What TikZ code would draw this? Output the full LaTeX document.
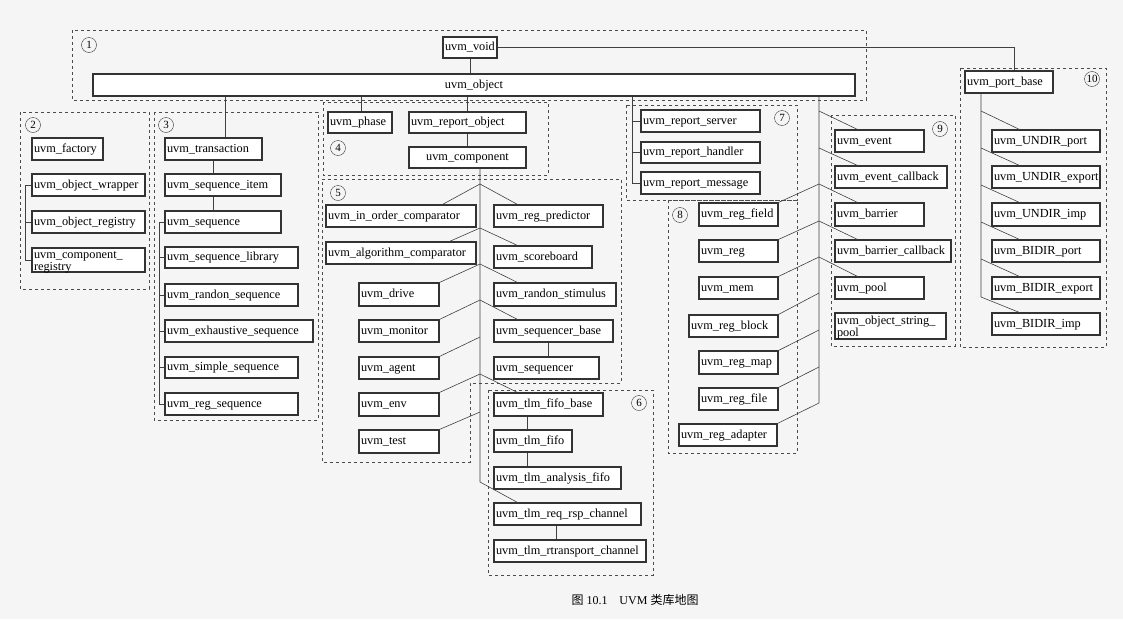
\documentclass[tikz,border=0pt]{standalone}
\usepackage{fontspec}
\setmainfont{Liberation Serif}
\newfontfamily\cjk{Noto Sans CJK SC}
\usetikzlibrary{positioning}

% class box: [extra style], name, x1, y1, x2, y2, text (pixel coordinates)
\newcommand{\cls}[7][]{%
  \pgfmathsetmacro\clsw{#5-#3-4}%
  \pgfmathsetmacro\clsh{#6-#4}%
  \node[cls, text width=\clsw pt, minimum height=\clsh pt, #1] (#2) at ({(#3+#5)/2},{(#4+#6)/2}) {#7};}

\tikzset{
  cls/.style={draw=black!80, line width=1.2pt, inner xsep=2pt, inner ysep=0pt, align=left,
    text height=9pt, text depth=2.5pt, font=\fontsize{12.3}{10}\selectfont, fill=white},
  twoline/.style={text height=9pt, text depth=12pt},
  grp/.style={draw=black!70, dashed, line width=0.5pt},
  num/.style={draw=black!80, circle, inner sep=0pt, minimum size=15pt, font=\fontsize{11}{11}\selectfont},
  link/.style={draw=black!75, line width=0.6pt}
}

\begin{document}
\begin{tikzpicture}[x=1pt, y=-1pt]
\fill[black!4] (0,0) rectangle (1123,619);
\useasboundingbox (0,0) rectangle (1123,619);

% groups
\draw[grp] (72,30) rectangle (866,100);
\draw[grp] (20,112) rectangle (149,289);
\draw[grp] (154,112) rectangle (318,420);
\draw[grp] (323,102) rectangle (548,175);
\draw[grp] (322,179) -- (621,179) -- (621,383) -- (470,383) -- (470,462) -- (322,462) -- cycle;
\draw[grp] (488,390) rectangle (653,575);
\draw[grp] (626,105) rectangle (797,200);
\draw[grp] (668,200) rectangle (797,453);
\draw[grp] (831,115) rectangle (955,346);
\draw[grp] (960,68) rectangle (1106,347);

\node[num] (n1) at (89,45) {1};
\node[num] (n2) at (33,125) {2};
\node[num] (n3) at (166,125) {3};
\node[num] (n4) at (338,148) {4};
\node[num] (n5) at (338,193) {5};
\node[num] (n6) at (639,403) {6};
\node[num] (n7) at (782,118) {7};
\node[num] (n8) at (680,215) {8};
\node[num] (n9) at (940,129) {9};
\node[num] (n10) at (1092,79) {10};

% 1
\cls{void}{443}{37}{497}{58}{uvm\_void}
\node[cls, minimum width=762pt, minimum height=22pt, align=center] (object) at (474,85) {uvm\_object};
% 2
\cls{factory}{32}{138}{103}{160}{uvm\_factory}
\cls{wrapper}{32}{174}{145}{196}{uvm\_object\_wrapper}
\cls{objreg}{32}{211}{145}{233}{uvm\_object\_registry}
\cls[twoline]{compreg}{32}{248}{145}{272}{uvm\_component\_\\registry}
% 3
\cls{trans}{165}{138}{262}{160}{uvm\_transaction}
\cls{seqitem}{165}{174}{281}{196}{uvm\_sequence\_item}
\cls{seq}{165}{211}{281}{233}{uvm\_sequence}
\cls{seqlib}{165}{247}{298}{268}{uvm\_sequence\_library}
\cls{randseq}{165}{284}{298}{306}{uvm\_randon\_sequence}
\cls{exhseq}{165}{320}{313}{342}{uvm\_exhaustive\_sequence}
\cls{simpseq}{165}{357}{298}{378}{uvm\_simple\_sequence}
\cls{regseq}{165}{393}{298}{415}{uvm\_reg\_sequence}
% 4
\cls{phase}{328}{112}{392}{133}{uvm\_phase}
\cls{repobj}{409}{112}{526}{133}{uvm\_report\_object}
\cls{comp}{409}{147}{526}{168}{\hfil uvm\_component}
% 5
\cls{inorder}{326}{205}{476}{227}{uvm\_in\_order\_comparator}
\cls{algo}{326}{242}{476}{264}{uvm\_algorithm\_comparator}
\cls{drive}{359}{283}{439}{306}{uvm\_drive}
\cls{monitor}{359}{320}{439}{342}{uvm\_monitor}
\cls{agent}{359}{357}{439}{379}{uvm\_agent}
\cls{env}{359}{393}{439}{416}{uvm\_env}
\cls{test}{359}{430}{439}{453}{uvm\_test}
\cls{pred}{494}{205}{603}{227}{uvm\_reg\_predictor}
\cls{score}{494}{246}{592}{268}{uvm\_scoreboard}
\cls{stim}{494}{283}{616}{306}{uvm\_randon\_stimulus}
\cls{sqrbase}{494}{320}{613}{342}{uvm\_sequencer\_base}
\cls{sqr}{494}{357}{599}{379}{uvm\_sequencer}
% 6
\cls{fifobase}{494}{393}{603}{416}{uvm\_tlm\_fifo\_base}
\cls{fifo}{494}{430}{572}{452}{uvm\_tlm\_fifo}
\cls{afifo}{494}{467}{621}{489}{uvm\_tlm\_analysis\_fifo}
\cls{reqrsp}{494}{503}{641}{525}{uvm\_tlm\_req\_rsp\_channel}
\cls{rtrans}{494}{540}{646}{562}{uvm\_tlm\_rtransport\_channel}
% 7
\cls{server}{641}{110}{760}{132}{uvm\_report\_server}
\cls{handler}{641}{142}{760}{163}{uvm\_report\_handler}
\cls{message}{641}{172}{760}{194}{uvm\_report\_message}
% 8
\cls{field}{699}{203}{778}{226}{uvm\_reg\_field}
\cls{reg}{699}{240}{778}{262}{uvm\_reg}
\cls{mem}{699}{277}{778}{299}{uvm\_mem}
\cls{block}{689}{315}{778}{337}{uvm\_reg\_block}
\cls{map}{699}{351}{778}{374}{uvm\_reg\_map}
\cls{file}{699}{388}{778}{410}{uvm\_reg\_file}
\cls{adapter}{679}{424}{777}{446}{uvm\_reg\_adapter}
% 9
\cls{event}{835}{130}{924}{152}{uvm\_event}
\cls{eventcb}{835}{166}{947}{188}{uvm\_event\_callback}
\cls{barrier}{835}{203}{924}{226}{uvm\_barrier}
\cls{barriercb}{835}{240}{951}{262}{uvm\_barrier\_callback}
\cls{pool}{835}{277}{924}{299}{uvm\_pool}
\cls[twoline]{strpool}{835}{313}{946}{339}{uvm\_object\_string\_\\pool}
% 10
\cls{portbase}{965}{71}{1053}{93}{uvm\_port\_base}
\cls{uport}{992}{130}{1100}{152}{uvm\_UNDIR\_port}
\cls{uexport}{992}{166}{1100}{188}{uvm\_UNDIR\_export}
\cls{uimp}{992}{203}{1100}{226}{uvm\_UNDIR\_imp}
\cls{bport}{992}{240}{1100}{262}{uvm\_BIDIR\_port}
\cls{bexport}{992}{277}{1100}{299}{uvm\_BIDIR\_export}
\cls{bimp}{992}{313}{1100}{335}{uvm\_BIDIR\_imp}

% connectors
\draw[link] (void) -- (void |- object.north);
\draw[link] (void.east) -| (portbase.north -| 1014,0);
\draw[link] (trans.north -| 225,0) -- (object.south -| 225,0);
\draw[link] (trans) -- (trans |- seqitem.north);
\draw[link] (seqitem.south -| trans) -- (seq.north -| trans);
\draw[link] (phase.north -| 361,0) -- (object.south -| 361,0);
\draw[link] (repobj) -- (object.south -| repobj);
\draw[link] (repobj) -- (comp);
\draw[link] (sqrbase.south -| 548,0) -- (sqr.north -| 548,0);
\draw[link] (fifobase.south -| 527,0) -- (fifo.north -| 527,0);
\draw[link] (fifo.south -| 527,0) -- (afifo.north -| 527,0);
\draw[link] (reqrsp.south -| 556,0) -- (rtrans.north -| 556,0);

% brackets
\draw[link] (wrapper.west) -| (compreg.west -| 25,0) -- (compreg.west);
\draw[link] (objreg.west) -- (objreg.west -| 25,0);
\draw[link] (seq.west) -| (regseq.west -| 159,0) -- (regseq.west);
\foreach \b in {seqlib,randseq,exhseq,simpseq}
  \draw[link] (\b.west) -- (\b.west -| 159,0);
\draw[link] (object.south -| 632,0) |- (message.west);
\foreach \b in {server,handler}
  \draw[link] (\b.west) -- (\b.west -| 632,0);

% group 5 trunk
\coordinate (t5) at (480,482);
\draw[link] (comp.south -| t5) -- (t5) -- ([xshift=24pt]reqrsp.north west);
\foreach \y/\l/\dx in {184/inorder/-34,228/algo/-27,264/drive/0,300/monitor/0,337/agent/0,374/env/0,412/test/0}
  \draw[link] (480,\y) -- ([xshift=\dx pt]\l.north east);
\foreach \y/\r in {184/pred,228/score,264/stim,300/sqrbase,374/fifobase}
  \draw[link] (480,\y) -- ([xshift=24pt]\r.north west);

% groups 8 and 9 trunk
\coordinate (t8) at (819,403);
\draw[link] (object.south -| t8) -- (t8) -- (adapter.north east);
\foreach \y/\l in {184/field,221/reg,257/mem,293/block,330/map,367/file}
  \draw[link] (819,\y) -- (\l.north east);
\foreach \y/\r in {111/event,148/eventcb,184/barrier,221/barriercb,257/pool}
  \draw[link] (819,\y) -- ([xshift=23pt]\r.north west);

% group 10 trunk
\coordinate (t10) at (981,297);
\draw[link] (portbase.south -| t10) -- (t10) -- ([xshift=28pt]bimp.north west);
\foreach \y/\r in {111/uport,148/uexport,185/uimp,222/bport,259/bexport}
  \draw[link] (981,\y) -- ([xshift=28pt]\r.north west);

\node[font=\fontsize{12}{12}\selectfont] (caption) at (635,600) {{\cjk 图} 10.1\quad UVM {\cjk 类库地图}};
\end{tikzpicture}
\end{document}
